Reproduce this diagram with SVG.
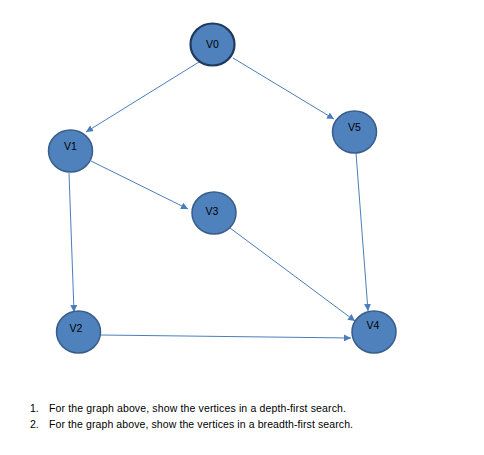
<svg xmlns="http://www.w3.org/2000/svg" width="484" height="455" viewBox="0 0 484 455">
<style>
.node{fill:#4f81bd;stroke:#385d8a;stroke-width:1.5}
.root{fill:#4f81bd;stroke:#1f3a60;stroke-width:2.2}
.lbl{font-family:"Liberation Sans",Arial,sans-serif;font-size:10.5px;fill:#000;text-anchor:middle}
.edge{stroke:#4a7ebb;stroke-width:1;fill:none;marker-end:url(#ah)}
.txt{font-family:"Liberation Sans",Arial,sans-serif;font-size:10.5px;fill:#000}
</style>
<defs>
<marker id="ah" viewBox="0 0 10 10" refX="10" refY="5" markerWidth="7" markerHeight="7" orient="auto" markerUnits="userSpaceOnUse">
<path d="M0,0 L10,5 L0,10 z" fill="#4a7ebb"/>
</marker>
</defs>
<rect width="484" height="455" fill="#fff"/>
<g id="connectors">
<line class="edge" x1="199" y1="62" x2="86" y2="132"/>
<line class="edge" x1="233" y1="58" x2="334" y2="119"/>
<line class="edge" x1="91" y1="161" x2="188" y2="209"/>
<line class="edge" x1="69" y1="173" x2="74" y2="312"/>
<line class="edge" x1="230" y1="228" x2="355" y2="321"/>
<line class="edge" x1="356" y1="153" x2="368" y2="311"/>
<line class="edge" x1="101" y1="335" x2="351" y2="338"/>
</g>
<g id="V0"><ellipse class="root" cx="212.5" cy="44.5" rx="22" ry="21"/><text class="lbl" x="212.5" y="48">V0</text></g>
<g id="V1"><ellipse class="node" cx="70.5" cy="151" rx="22" ry="21"/><text class="lbl" x="70.5" y="150">V1</text></g>
<g id="V5"><ellipse class="node" cx="354.5" cy="132" rx="22" ry="21"/><text class="lbl" x="354.5" y="131">V5</text></g>
<g id="V3"><ellipse class="node" cx="214" cy="213" rx="22" ry="21"/><text class="lbl" x="212" y="215">V3</text></g>
<g id="V2"><ellipse class="node" cx="78.5" cy="332" rx="22" ry="21"/><text class="lbl" x="76" y="332">V2</text></g>
<g id="V4"><ellipse class="node" cx="374" cy="332" rx="22" ry="21"/><text class="lbl" x="373" y="329">V4</text></g>
<g id="notes">
<text class="txt" x="30" y="412">1.</text><text class="txt" x="49" y="412" textLength="297" lengthAdjust="spacing">For the graph above, show the vertices in a depth-first search.</text>
<text class="txt" x="30" y="428">2.</text><text class="txt" x="49" y="428" textLength="304" lengthAdjust="spacing">For the graph above, show the vertices in a breadth-first search.</text>
</g>
</svg>
